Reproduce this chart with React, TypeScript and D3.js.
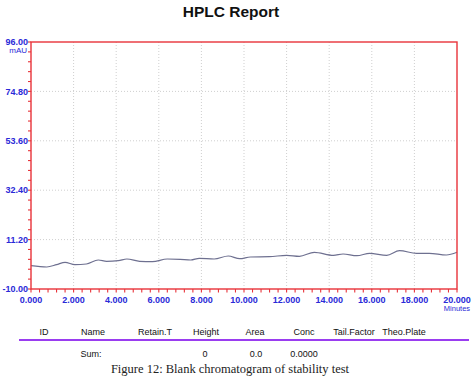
import React from "react";
import * as d3 from "d3";

const title = "HPLC Report";
const yTicks = [96.0, 74.8, 53.6, 32.4, 11.2, -10.0];
const xTicks = [0, 2, 4, 6, 8, 10, 12, 14, 16, 18, 20];
const traceTime = [0, 0.74, 1.2, 1.6, 2.06, 2.6, 3.16, 3.55, 4.1, 4.5, 5.1, 5.7, 6.4, 7.0, 7.5, 7.9, 8.6, 9.26, 9.8, 10.3, 11.2, 12.0, 12.6, 13.3, 14.2, 14.65, 15.3, 15.9, 16.7, 17.3, 18.1, 18.7, 19.5, 20];
const traceValue = [0.0, -0.56, 0.43, 1.46, 0.43, 0.73, 2.44, 1.89, 2.14, 2.87, 1.89, 1.72, 2.87, 2.74, 2.44, 3.17, 2.87, 4.16, 3.0, 3.73, 3.86, 4.46, 4.03, 5.75, 4.46, 5.02, 4.29, 5.32, 4.46, 6.43, 5.32, 5.32, 4.59, 5.75];
const tableHeaders = ["ID", "Name", "Retain.T", "Height", "Area", "Conc", "Tail.Factor", "Theo.Plate"];
const sumRow = ["", "Sum:", "", "0", "0.0", "0.0000", "", ""];
const caption = "Figure 12: Blank chromatogram of stability test";

const W = 474, H = 381;
const L = 31, R = 457, T = 42, B = 289;
const colX = [44, 93, 155, 206, 255, 304, 354, 404];
const sumX = [44, 91, 155, 205, 256, 304, 354, 404];

export default function App() {
  const x = d3.scaleLinear().domain([0, 20]).range([L, R]);
  const y = d3.scaleLinear().domain([-10, 96]).range([B, T]);
  const pts = traceTime.map((t, i) => [t, traceValue[i]] as [number, number]);
  const line = d3.line<[number, number]>().x(d => x(d[0])).y(d => y(d[1])).curve(d3.curveMonotoneX);
  const yMinor: number[] = [];
  for (let i = 0; i <= 25; i++) yMinor.push(-10 + i * 4.24);
  const xMinor: number[] = [];
  for (let i = 0; i <= 50; i++) xMinor.push(i * 0.4);
  const red = "#e8333a";
  const blue = "#2a2ad8";
  const font = "'Liberation Sans', Arial, sans-serif";
  return (
    <svg width={W} height={H} style={{ position: "absolute", left: 0, top: 0, background: "#fff" }} fontFamily={font}>
      <rect x={0} y={0} width={W} height={H} fill="#fff" />
      <text x={231} y={17} textAnchor="middle" fontSize={15.5} fontWeight="bold" fill="#111">{title}</text>
      {/* grid */}
      {xTicks.slice(1, -1).map(t => (
        <line key={"gx" + t} x1={x(t)} x2={x(t)} y1={T} y2={B} stroke="#cfcfcf" strokeDasharray="1,2" />
      ))}
      {yTicks.slice(1, -1).map(v => (
        <line key={"gy" + v} x1={L} x2={R} y1={y(v)} y2={y(v)} stroke="#cfcfcf" strokeDasharray="1,2" />
      ))}
      {/* trace */}
      <path d={line(pts) || ""} fill="none" stroke="#6e7090" strokeWidth={1.2} />
      {/* frame */}
      <rect x={L} y={T} width={R - L} height={B - T} fill="none" stroke={red} strokeWidth={1.4} />
      {yMinor.map((v, i) => (
        <line key={"ym" + i} x1={L - 3} x2={L} y1={y(v)} y2={y(v)} stroke={red} strokeWidth={1.1} />
      ))}
      {xMinor.map((t, i) => (
        <line key={"xm" + i} x1={x(t)} x2={x(t)} y1={B} y2={B + 3.5} stroke={red} strokeWidth={1.1} />
      ))}
      {/* y labels */}
      {yTicks.map(v => (
        <text key={"yl" + v} x={L - 3} y={y(v)} dy="0.35em" textAnchor="end" fontSize={9} fontWeight="bold" fill={blue}>{v.toFixed(2)}</text>
      ))}
      <text x={L - 4} y={y(96) + 8} dy="0.35em" textAnchor="end" fontSize={8} fill={blue}>mAU</text>
      {/* x labels */}
      {xTicks.map(t => (
        <text key={"xl" + t} x={x(t)} y={B + 11} dy="0.35em" textAnchor="middle" fontSize={9} fontWeight="bold" fill={blue}>{t.toFixed(3)}</text>
      ))}
      <text x={x(20)} y={B + 19} dy="0.35em" textAnchor="middle" fontSize={7.5} fill={blue}>Minutes</text>
      {/* table */}
      {tableHeaders.map((h, i) => (
        <text key={"th" + i} x={colX[i]} y={332} dy="0.35em" textAnchor="middle" fontSize={9} fill="#111">{h}</text>
      ))}
      <line x1={19} x2={469} y1={340} y2={340} stroke="#9a3df0" strokeWidth={2} />
      {sumRow.map((s, i) => s ? (
        <text key={"sr" + i} x={sumX[i]} y={353.5} dy="0.35em" textAnchor="middle" fontSize={9} fill="#111">{s}</text>
      ) : null)}
      <text x={230} y={373} textAnchor="middle" fontSize={12.5} fontFamily="'Liberation Serif', 'Times New Roman', serif" fill="#222">{caption}</text>
    </svg>
  );
}
